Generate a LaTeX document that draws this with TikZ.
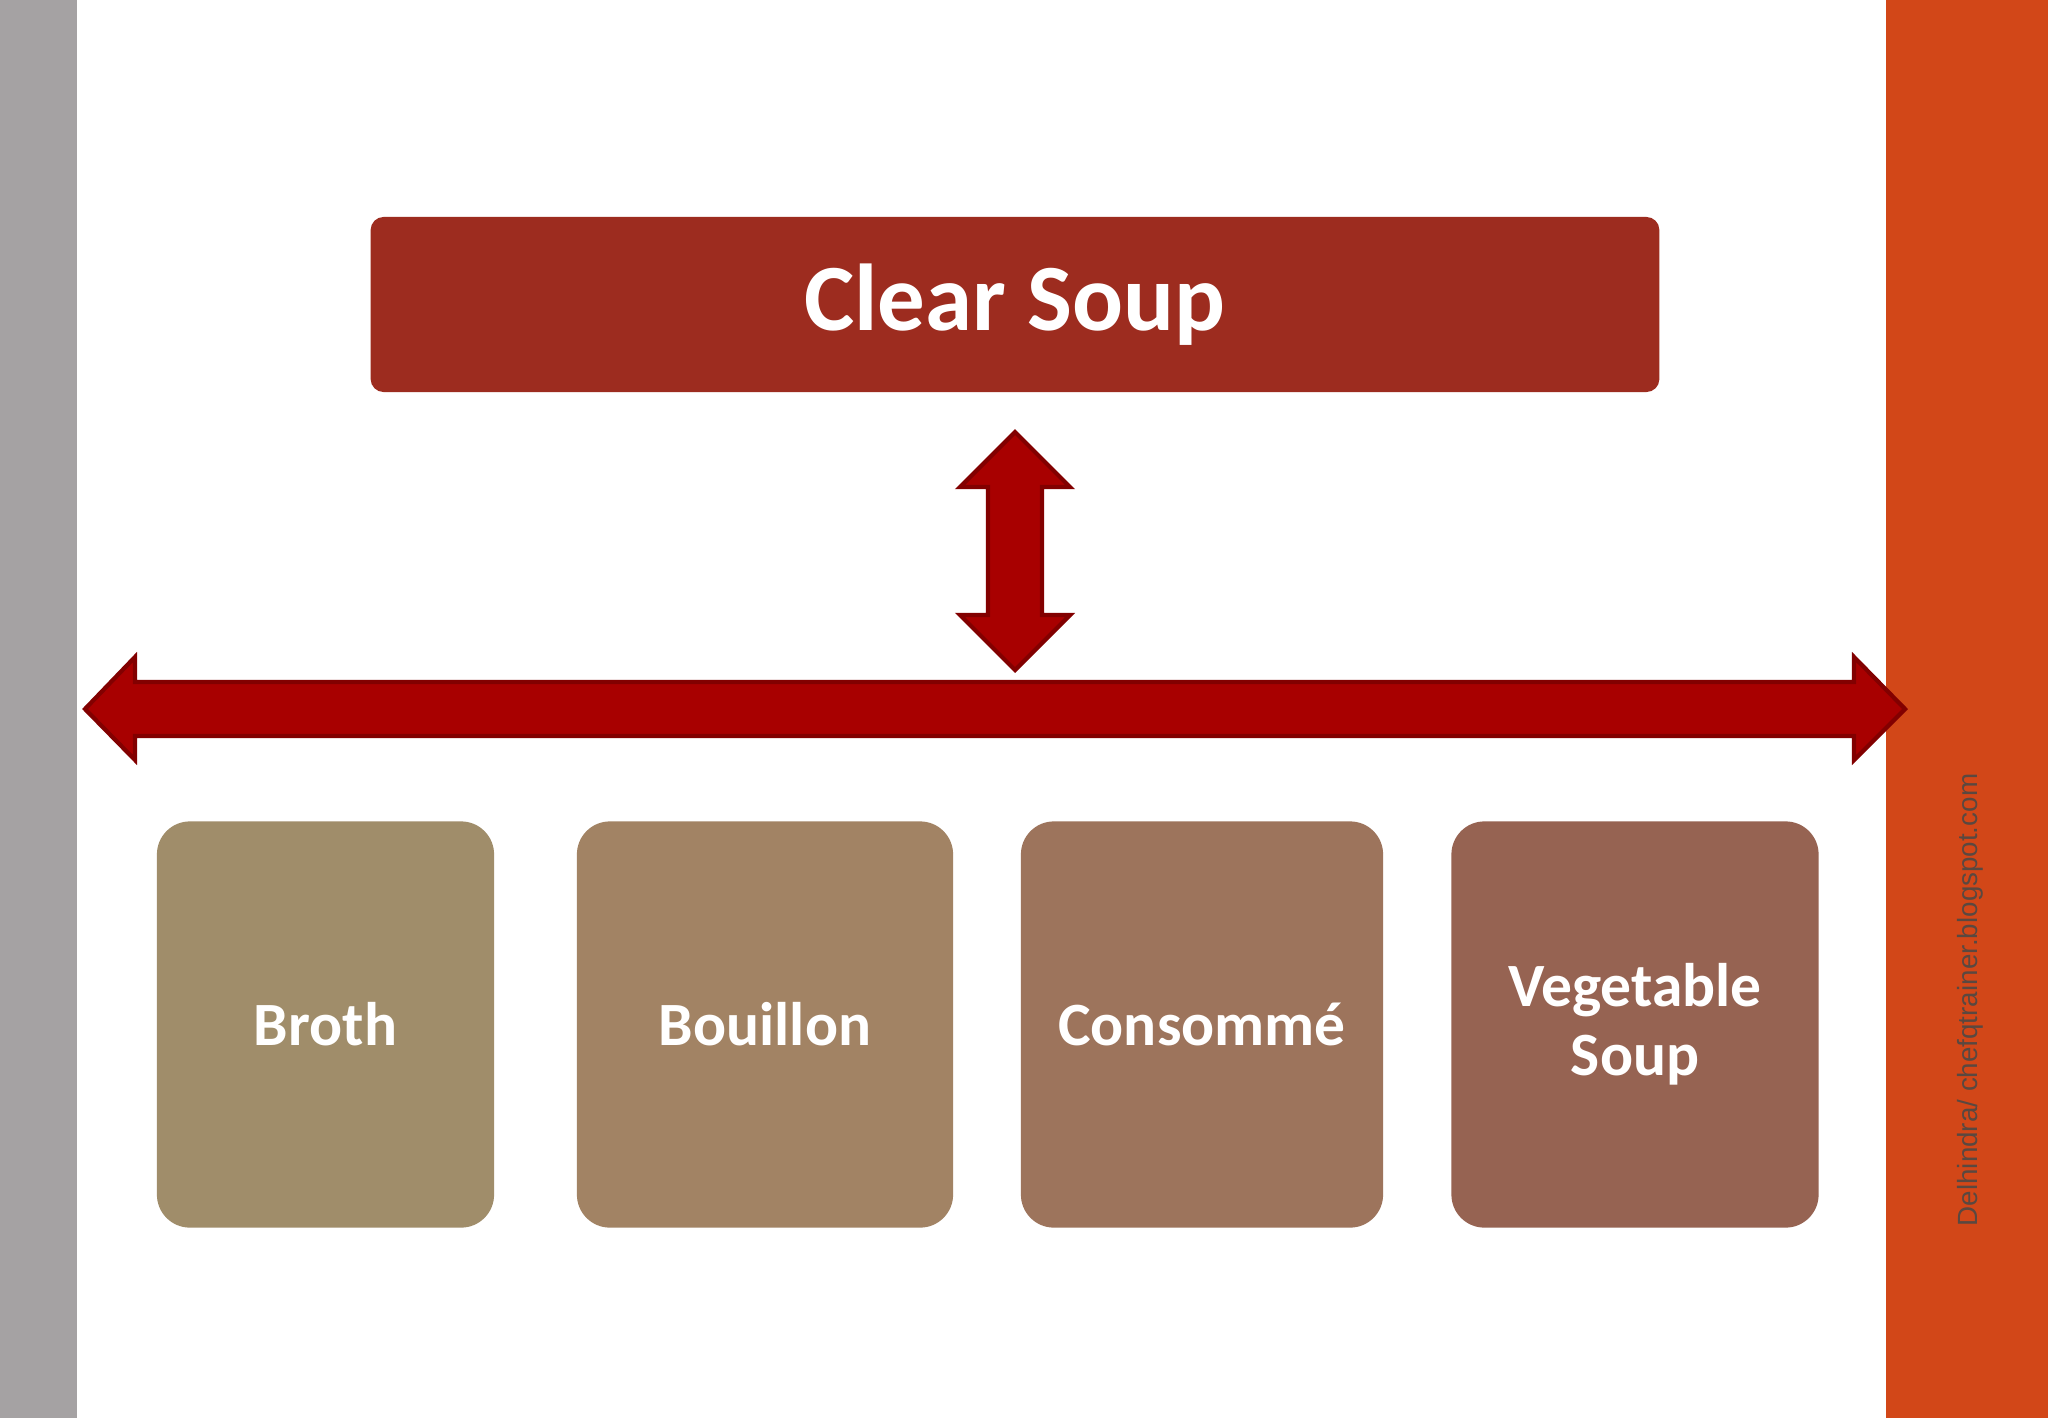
\documentclass[tikz,border=0pt]{standalone}
\usepackage{fontspec}
\setmainfont{Carlito}
\newfontfamily\wmfont{Liberation Sans}
\definecolor{leftbar}{HTML}{A5A2A3}
\definecolor{rightbar}{HTML}{D24718}
\definecolor{topbox}{HTML}{9D2C1F}
\definecolor{arrowfill}{HTML}{A80000}
\definecolor{arrowedge}{HTML}{820000}
\definecolor{cbroth}{HTML}{A08D6A}
\definecolor{cbouillon}{HTML}{A28364}
\definecolor{cconsomme}{HTML}{9D745C}
\definecolor{cveg}{HTML}{966352}
\definecolor{wmcolor}{HTML}{5A4840}
\tikzset{
  soupbox/.style={rounded corners=0.33cm, inner sep=0pt, text=white,
    font=\fontsize{17.5}{19.5}\selectfont\bfseries, align=center,
    minimum height=4.06cm},
  topstyle/.style={rounded corners=0.13cm, inner sep=0pt, text=white, fill=topbox,
    font=\fontsize{27}{30}\selectfont\bfseries,
    minimum width=12.88cm, minimum height=1.75cm},
  bigarrow/.style={fill=arrowfill, draw=arrowedge, line width=1.2pt, line join=miter}
}
\begin{document}
\begin{tikzpicture}[x=0.01cm,y=-0.01cm]
\useasboundingbox (0,0) rectangle (2048,1418);
\fill[white] (0,0) rectangle (2048,1418);
\fill[leftbar] (0,0) rectangle (77,1418);
\fill[rightbar] (1886,0) rectangle (2048,1418);

\node[topstyle] (clear) at (1015,304.5) {Clear Soup};

% vertical double arrow
\draw[bigarrow] (1015,432) -- (1070,487) -- (1042,487) -- (1042,615) -- (1070,615)
  -- (1015,670) -- (960,615) -- (988,615) -- (988,487) -- (960,487) -- cycle;

% horizontal double arrow
\draw[bigarrow] (85,709) -- (135,657) -- (135,682) -- (1854,682) -- (1854,657)
  -- (1905,709) -- (1854,760) -- (1854,736) -- (135,736) -- (135,760) -- cycle;

\node[soupbox, fill=cbroth, minimum width=3.37cm] (broth) at (325.5,1024.5) {Broth};
\node[soupbox, fill=cbouillon, minimum width=3.76cm] (bouillon) at (765,1024.5) {Bouillon};
\node[soupbox, fill=cconsomme, minimum width=3.62cm] (consomme) at (1202,1024.5) {Consommé};
\node[soupbox, fill=cveg, minimum width=3.67cm] (veg) at (1635,1024.5) {Vegetable\\Soup};

\node[rotate=90, text=wmcolor, font=\wmfont\fontsize{7.9}{9}\selectfont, inner sep=0pt]
  (wm) at (1970,1000) {Delhindra/ chefqtrainer.blogspot.com};
\end{tikzpicture}
\end{document}
